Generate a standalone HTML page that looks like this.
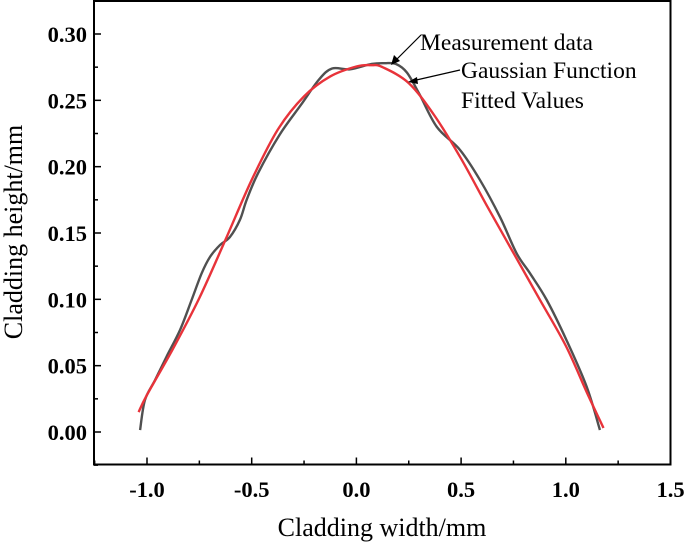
<!DOCTYPE html>
<html><head><meta charset="utf-8"><style>
body{margin:0;background:#fff}
svg text{font-family:"Liberation Serif",serif}
</style></head><body>
<svg id="chart" width="685" height="543" xmlns="http://www.w3.org/2000/svg">
<g id="axes"></g><g id="series"></g>
<text x="420" y="50" font-size="23.5">Measurement data</text>
<text x="461" y="78" font-size="23.5">Gaussian Function</text>
<text x="461" y="108" font-size="23.5">Fitted Values</text>
<line x1="421" y1="35" x2="394" y2="62" stroke="#000" stroke-width="1.2"/>
<polygon points="391,65 394,55 400,61" fill="#000"/>
<line x1="460" y1="70" x2="412" y2="81" stroke="#000" stroke-width="1.2"/>
<polygon points="408,82 417,77 418,84" fill="#000"/>
<text x="382" y="536" font-size="26" text-anchor="middle">Cladding width/mm</text>
<text transform="translate(22,232) rotate(-90)" font-size="26" text-anchor="middle">Cladding height/mm</text>
</svg>
<script>
const xTicks=[-1.0,-0.5,0.0,0.5,1.0,1.5];
const xTickLabels=["-1.0","-0.5","0.0","0.5","1.0","1.5"];
const yTicks=[0,0.05,0.10,0.15,0.20,0.25,0.30];
const yTickLabels=["0.00","0.05","0.10","0.15","0.20","0.25","0.30"];
const measX=[-1.033,-1.01,-0.962,-0.906,-0.842,-0.787,-0.739,-0.699,-0.651,-0.604,-0.556,-0.524,-0.47,-0.367,-0.263,-0.179,-0.116,-0.03,0.073,0.136,0.189,0.241,0.30,0.384,0.495,0.59,0.686,0.765,0.829,0.909,1.004,1.10,1.163];
const measY=[0.0015,0.024,0.039,0.057,0.077,0.0995,0.1196,0.132,0.141,0.147,0.160,0.175,0.195,0.224,0.247,0.2656,0.274,0.2734,0.2774,0.278,0.2774,0.271,0.255,0.230,0.2126,0.190,0.162,0.1347,0.1196,0.0995,0.069,0.034,0.0015];
const fitX=[-1.04,-1.0,-0.875,-0.75,-0.625,-0.5,-0.375,-0.25,-0.125,0,0.07,0.125,0.25,0.375,0.5,0.625,0.75,0.875,1.0,1.1,1.18];
const fitY=[0.015,0.028,0.063,0.101,0.145,0.19,0.228,0.253,0.268,0.2755,0.2765,0.275,0.263,0.238,0.206,0.170,0.135,0.100,0.065,0.030,0.003];
const L=94,R=670.5,T=1,B=464.5;
const sx=v=>147+(v+1)*(523.5/2.5);
const sy=v=>432-v*(398/0.3);
const NS="http://www.w3.org/2000/svg";
const axes=document.getElementById('axes'),ser=document.getElementById('series');
function mk(tag,a,p){const e=document.createElementNS(NS,tag);for(const k in a)e.setAttribute(k,a[k]);p.appendChild(e);return e;}
const fr=mk('rect',{x:L,y:T,width:R-L,height:B-T,fill:'none',stroke:'#000','stroke-width':2},axes);


for(let v=-1.25;v<=1.51;v+=0.25){const x=sx(v);const major=Math.abs(Math.round(v*2)-v*2)<1e-6;
 const t=mk('line',{x1:x,x2:x,y1:B,y2:B-(major?7:4),stroke:'#000','stroke-width':1.5},axes);
 
 }
xTicks.forEach((v,i)=>{const t=mk('text',{x:sx(v),y:497,'font-size':22.5,'font-weight':'bold','text-anchor':'middle'},axes);t.textContent=xTickLabels[i];
 
 });
for(let v=-0.025;v<=0.326;v+=0.025){const y=sy(v);const major=Math.abs(Math.round(v*20)-v*20)<1e-6;
 const t=mk('line',{x1:L,x2:L+(major?7:4),y1:y,y2:y,stroke:'#000','stroke-width':1.5},axes);
 
 }
yTicks.forEach((v,i)=>{const t=mk('text',{x:87,y:sy(v)+8,'font-size':22.5,'font-weight':'bold','text-anchor':'end'},axes);t.textContent=yTickLabels[i];
 
 });
function smooth(xs,ys){const p=xs.map((x,i)=>[sx(x),sy(ys[i])]);let d='M'+p[0][0]+','+p[0][1];
 for(let i=0;i<p.length-1;i++){const p0=p[i-1]||p[i],p1=p[i],p2=p[i+1],p3=p[i+2]||p2;
  d+=` C${p1[0]+(p2[0]-p0[0])/6},${p1[1]+(p2[1]-p0[1])/6} ${p2[0]-(p3[0]-p1[0])/6},${p2[1]-(p3[1]-p1[1])/6} ${p2[0]},${p2[1]}`;}return d;}
const m=mk('path',{d:smooth(measX,measY),fill:'none',stroke:'#505050','stroke-width':2.4},ser);


const f=mk('path',{d:smooth(fitX,fitY),fill:'none',stroke:'#e8333a','stroke-width':2.4},ser);


</script>
</body></html>
